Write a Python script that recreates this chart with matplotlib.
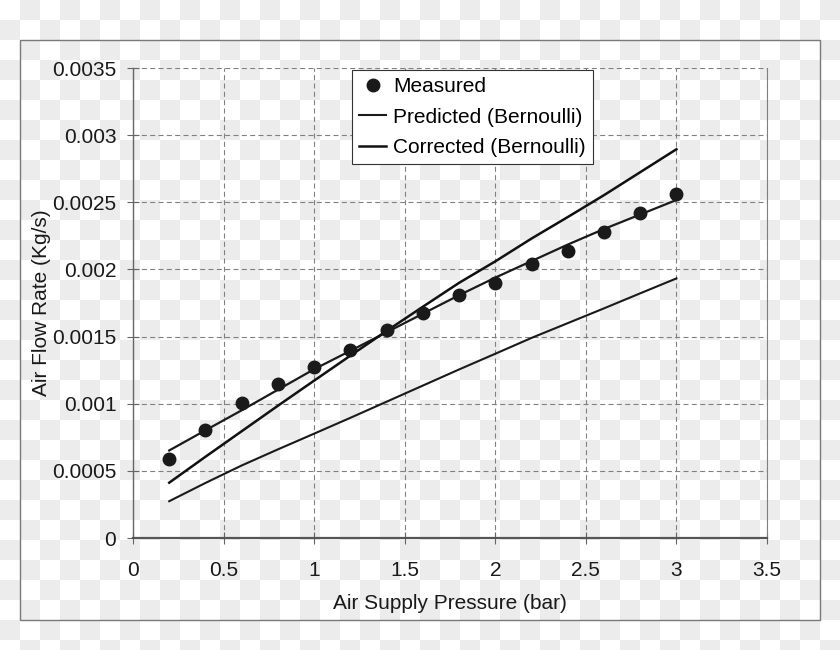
import matplotlib
matplotlib.use('Agg')
import matplotlib.pyplot as plt
import numpy as np
from matplotlib.patches import Rectangle

plt.rcParams['font.family'] = ['Liberation Sans', 'DejaVu Sans']

# Data
pressure = [0.2, 0.4, 0.6, 0.8, 1.0, 1.2, 1.4, 1.6, 1.8, 2.0, 2.2, 2.4, 2.6, 2.8, 3.0]

measured = [0.000592, 0.000807, 0.001005, 0.001150, 0.001274, 0.001398, 0.001547,
            0.001679, 0.001808, 0.001900, 0.002037, 0.002136, 0.002276, 0.002418,
            0.002559]

trend = [0.000652, 0.000802, 0.000951, 0.001104, 0.001257, 0.001394, 0.001532,
         0.001670, 0.001808, 0.001939, 0.002062, 0.002185, 0.002301, 0.002409,
         0.002517]

predicted = [0.000274, 0.000410, 0.000540, 0.000660, 0.000777, 0.000895, 0.001015,
             0.001135, 0.001255, 0.001372, 0.001490, 0.001600, 0.001710, 0.001822,
             0.001933]

corrected = [0.000412, 0.000605, 0.000795, 0.000985, 0.001172, 0.001358, 0.001542,
             0.001722, 0.001900, 0.002060, 0.002230, 0.002390, 0.002553, 0.002724,
             0.002895]

x_ticks = [0, 0.5, 1, 1.5, 2, 2.5, 3, 3.5]
x_ticklabels = ['0', '0.5', '1', '1.5', '2', '2.5', '3', '3.5']
y_ticks = [0, 0.0005, 0.001, 0.0015, 0.002, 0.0025, 0.003, 0.0035]
y_ticklabels = ['0', '0.0005', '0.001', '0.0015', '0.002', '0.0025', '0.003', '0.0035']

W, H = 840, 650
fig = plt.figure(figsize=(W / 100, H / 100), dpi=100)
fig.patch.set_alpha(0)

# checkered "transparent" background
jj, ii = np.indices((H, W))
checker = np.where(((ii // 20) + (jj // 20)) % 2 == 1, 0.922, 1.0)
fig.figimage(checker, cmap='gray', vmin=0, vmax=1, zorder=-10, origin='upper')

# outer frame
fig.patches.append(Rectangle((20 / W, 1 - 620 / H), 800 / W, 580 / H,
                             transform=fig.transFigure, fill=False,
                             edgecolor='#7a7a7a', linewidth=1.0))

ax = fig.add_axes([133 / W, 1 - 538 / H, 634 / W, 470 / H])
ax.set_facecolor('none')

ax.plot(pressure, trend, '-', color='#1a1a1a', linewidth=1.6, zorder=3)
ax.plot(pressure, measured, 'o', color='#1a1a1a', markersize=9, zorder=4,
        label='Measured')
ax.plot(pressure, predicted, '-', color='#1a1a1a', linewidth=1.5, zorder=3,
        label='Predicted (Bernoulli)')
ax.plot(pressure, corrected, '-', color='#111111', linewidth=1.8, zorder=3,
        label='Corrected (Bernoulli)')

ax.set_xlim(0, 3.5)
ax.set_ylim(0, 0.0035)
ax.set_xticks(x_ticks)
ax.set_xticklabels(x_ticklabels)
ax.set_yticks(y_ticks)
ax.set_yticklabels(y_ticklabels)

ax.grid(True, color='#808080', linestyle=(0, (4.5, 3)), linewidth=0.8)
ax.set_axisbelow(True)

ax.spines['top'].set_visible(False)
ax.spines['right'].set_color('#808080')
ax.spines['right'].set_linewidth(0.8)
ax.spines['left'].set_color('#666666')
ax.spines['left'].set_linewidth(1.0)
ax.spines['bottom'].set_color('#555555')
ax.spines['bottom'].set_linewidth(1.6)

ax.tick_params(axis='both', direction='inout', length=8, width=0.8,
               colors='#666666', labelcolor='#1a1a1a', labelsize=15)
ax.tick_params(axis='x', pad=12.5)
ax.tick_params(axis='y', pad=8)

ax.set_xlabel('Air Supply Pressure (bar)', fontsize=15, color='#1a1a1a', labelpad=10)
ax.set_ylabel('Air Flow Rate (Kg/s)', fontsize=15, color='#1a1a1a', labelpad=1)

leg = ax.legend(loc='upper left', bbox_to_anchor=(0.345, 0.996), borderaxespad=0,
                fontsize=15, frameon=True, fancybox=False, shadow=False,
                handlelength=1.3, handletextpad=0.35, labelspacing=0.55,
                borderpad=0.35, markerscale=1.0)
leg.get_frame().set_edgecolor('#333333')
leg.get_frame().set_linewidth(0.8)
leg.get_frame().set_facecolor('white')
leg.get_frame().set_alpha(1)

fig.savefig('out.png', dpi=100)
